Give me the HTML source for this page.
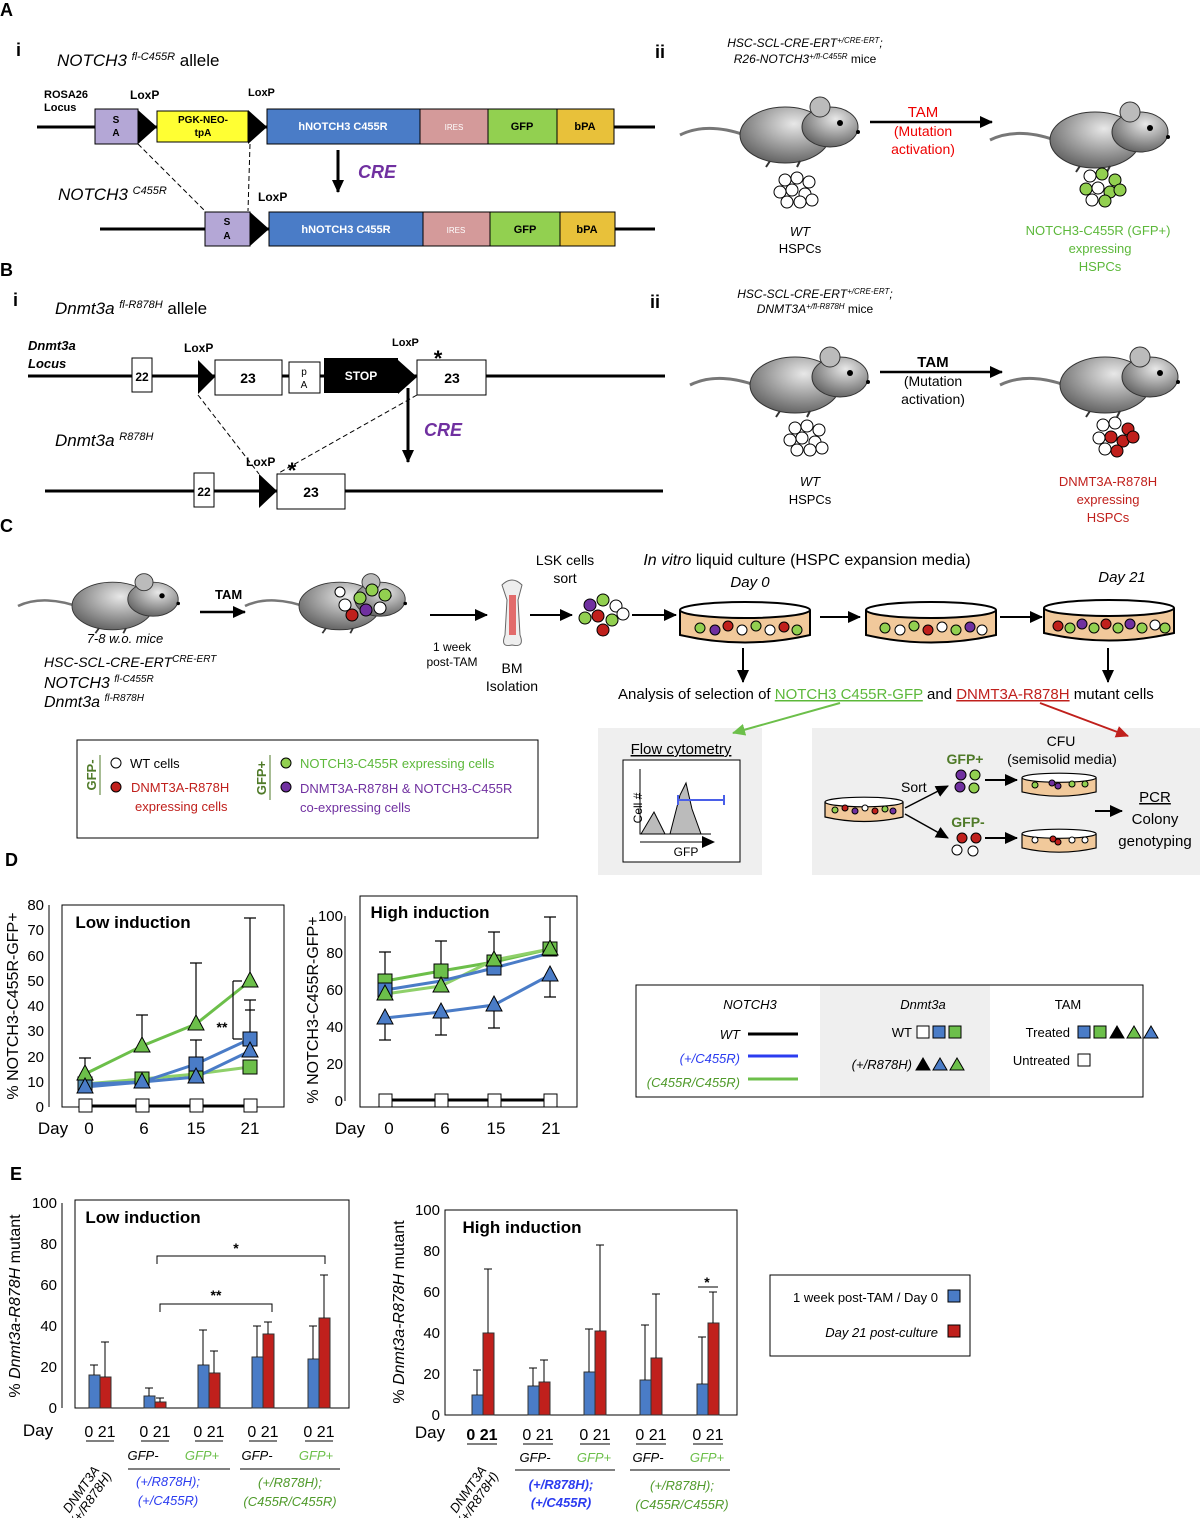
<!DOCTYPE html>
<html><head><meta charset="utf-8"><style>
html,body{margin:0;padding:0;background:#fff}
svg{display:block;font-family:"Liberation Sans",sans-serif}
.b{font-weight:bold}.it{font-style:italic}
</style></head><body>
<svg width="1200" height="1518" viewBox="0 0 1200 1518" xmlns="http://www.w3.org/2000/svg">
<defs>
<radialGradient id="mg" cx="0.6" cy="0.3" r="0.8"><stop offset="0" stop-color="#e8e8e8"/><stop offset="1" stop-color="#555"/></radialGradient>
<g id="mouse">
<path d="M0,40 C20,30 45,32 70,42" stroke="#777" stroke-width="3" fill="none"/>
<ellipse cx="105" cy="40" rx="45" ry="28" fill="url(#mg)" stroke="#333"/>
<ellipse cx="150" cy="32" rx="28" ry="20" fill="url(#mg)" stroke="#333"/>
<circle cx="140" cy="12" r="10" fill="#bbb" stroke="#333"/>
<circle cx="160" cy="28" r="3" fill="#000"/>
<circle cx="178" cy="37" r="2" fill="#000"/>
<path d="M90,66 l-4,6 M120,66 l-3,6" stroke="#333" stroke-width="2"/>
</g>
<g id="dish">
<path d="M0,10 L0,35 Q65,50 130,35 L130,10" fill="#f1c99b" stroke="#000" stroke-width="2"/>
<ellipse cx="65" cy="10" rx="65" ry="8" fill="#fff" stroke="#000" stroke-width="2"/>
</g>
<marker id="ar" markerUnits="userSpaceOnUse" markerWidth="14" markerHeight="14" refX="12" refY="6" orient="auto"><path d="M0,0 L13,6 L0,12z" fill="#000"/></marker>
<marker id="arg" markerUnits="userSpaceOnUse" markerWidth="14" markerHeight="14" refX="12" refY="6" orient="auto"><path d="M0,0 L13,6 L0,12z" fill="#6cbf4a"/></marker>
<marker id="arr" markerUnits="userSpaceOnUse" markerWidth="14" markerHeight="14" refX="12" refY="6" orient="auto"><path d="M0,0 L13,6 L0,12z" fill="#c0201c"/></marker>
</defs>

<!-- Panel A -->
<text x="0" y="16" class="b" font-size="18">A</text>
<text x="16" y="56" class="b" font-size="18">i</text>
<text x="57" y="66" font-size="17"><tspan class="it">NOTCH3 </tspan><tspan class="it" font-size="11" dy="-6">fl-C455R</tspan><tspan dy="6"> allele</tspan></text>
<text x="44" y="98" class="b" font-size="11">ROSA26</text><text x="44" y="111" class="b" font-size="11">Locus</text>
<text x="130" y="99" class="b" font-size="12">LoxP</text><text x="248" y="96" class="b" font-size="11">LoxP</text>
<line x1="37" y1="127" x2="655" y2="127" stroke="#000" stroke-width="3"/>
<rect x="95" y="109" width="43" height="35" fill="#b4a7d6" stroke="#000"/><text x="116" y="123" font-size="10" class="b" text-anchor="middle">S</text><text x="116" y="136" font-size="10" class="b" text-anchor="middle">A</text>
<path d="M138,110 L157,127 L138,144z" fill="#000"/>
<rect x="157" y="111" width="91" height="31" fill="#ffff33" stroke="#000"/><text x="203" y="123" font-size="10" class="b" text-anchor="middle">PGK-NEO-</text><text x="203" y="136" font-size="10" class="b" text-anchor="middle">tpA</text>
<path d="M248,110 L267,127 L248,144z" fill="#000"/>
<rect x="267" y="109" width="153" height="35" fill="#4a7cc7" stroke="#000"/><text x="343" y="130" font-size="11" class="b" fill="#fff" text-anchor="middle">hNOTCH3 C455R</text>
<rect x="420" y="109" width="68" height="35" fill="#d49a9a" stroke="#000"/><text x="454" y="130" font-size="8" fill="#fff" text-anchor="middle">IRES</text>
<rect x="488" y="109" width="69" height="35" fill="#92d050" stroke="#000"/><text x="522" y="130" font-size="11" class="b" text-anchor="middle">GFP</text>
<rect x="557" y="109" width="57" height="35" fill="#e8c13a" stroke="#000"/><text x="585" y="130" font-size="11" class="b" text-anchor="middle">bPA</text>
<line x1="338" y1="150" x2="338" y2="192" stroke="#000" stroke-width="3" marker-end="url(#ar)"/>
<text x="358" y="178" font-size="18" class="b it" fill="#7030a0">CRE</text>
<text x="58" y="200" font-size="17" class="it">NOTCH3 <tspan font-size="11" dy="-6">C455R</tspan></text>
<text x="258" y="201" class="b" font-size="12">LoxP</text>
<line x1="138" y1="144" x2="205" y2="211" stroke="#000" stroke-dasharray="5,3"/>
<line x1="250" y1="144" x2="248" y2="211" stroke="#000" stroke-dasharray="5,3"/>
<line x1="100" y1="229" x2="655" y2="229" stroke="#000" stroke-width="3"/>
<rect x="205" y="212" width="45" height="34" fill="#b4a7d6" stroke="#000"/><text x="227" y="225" font-size="10" class="b" text-anchor="middle">S</text><text x="227" y="239" font-size="10" class="b" text-anchor="middle">A</text>
<path d="M250,212 L269,229 L250,246z" fill="#000"/>
<rect x="269" y="212" width="154" height="34" fill="#4a7cc7" stroke="#000"/><text x="346" y="233" font-size="11" class="b" fill="#fff" text-anchor="middle">hNOTCH3 C455R</text>
<rect x="423" y="212" width="67" height="34" fill="#d49a9a" stroke="#000"/><text x="456" y="233" font-size="8" fill="#fff" text-anchor="middle">IRES</text>
<rect x="490" y="212" width="70" height="34" fill="#92d050" stroke="#000"/><text x="525" y="233" font-size="11" class="b" text-anchor="middle">GFP</text>
<rect x="560" y="212" width="55" height="34" fill="#e8c13a" stroke="#000"/><text x="587" y="233" font-size="11" class="b" text-anchor="middle">bPA</text>

<text x="655" y="58" class="b" font-size="18">ii</text>
<text x="805" y="47" font-size="12" class="it" text-anchor="middle">HSC-SCL-CRE-ERT<tspan font-size="8" dy="-4">+/CRE-ERT</tspan><tspan dy="4">;</tspan></text>
<text x="805" y="63" font-size="12" text-anchor="middle"><tspan class="it">R26-NOTCH3</tspan><tspan font-size="8" dy="-4" class="it">+/fl-C455R</tspan><tspan dy="4"> mice</tspan></text>
<use href="#mouse" transform="translate(680,95)"/>
<line x1="870" y1="122" x2="992" y2="122" stroke="#000" stroke-width="2.5" marker-end="url(#ar)"/>
<text x="923" y="117" font-size="15" fill="#e00" text-anchor="middle">TAM</text>
<text x="923" y="136" font-size="14" fill="#e00" text-anchor="middle">(Mutation</text>
<text x="923" y="154" font-size="14" fill="#e00" text-anchor="middle">activation)</text>
<use href="#mouse" transform="translate(990,100)"/>
<g fill="#fff" stroke="#000"><circle cx="785" cy="180" r="6"/><circle cx="797" cy="178" r="6"/><circle cx="809" cy="182" r="6"/><circle cx="780" cy="192" r="6"/><circle cx="792" cy="190" r="6"/><circle cx="805" cy="194" r="6"/><circle cx="787" cy="202" r="6"/><circle cx="800" cy="202" r="6"/><circle cx="812" cy="200" r="6"/></g>
<text x="800" y="236" font-size="13" class="it" text-anchor="middle">WT</text><text x="800" y="253" font-size="13" text-anchor="middle">HSPCs</text>
<g stroke="#000"><circle cx="1090" cy="176" r="6" fill="#fff"/><circle cx="1102" cy="174" r="6" fill="#92d050"/><circle cx="1115" cy="180" r="6" fill="#92d050"/><circle cx="1086" cy="189" r="6" fill="#92d050"/><circle cx="1098" cy="188" r="6" fill="#fff"/><circle cx="1110" cy="192" r="6" fill="#92d050"/><circle cx="1120" cy="190" r="6" fill="#92d050"/><circle cx="1092" cy="200" r="6" fill="#fff"/><circle cx="1105" cy="201" r="6" fill="#92d050"/></g>
<text x="1098" y="235" font-size="13" fill="#5cb83a" text-anchor="middle">NOTCH3-C455R (GFP+)</text><text x="1100" y="253" font-size="13" fill="#5cb83a" text-anchor="middle">expressing</text><text x="1100" y="271" font-size="13" fill="#5cb83a" text-anchor="middle">HSPCs</text>

<!-- Panel B -->
<text x="0" y="276" class="b" font-size="18">B</text>
<text x="13" y="306" class="b" font-size="18">i</text>
<text x="55" y="314" font-size="17"><tspan class="it">Dnmt3a </tspan><tspan class="it" font-size="11" dy="-6">fl-R878H</tspan><tspan dy="6"> allele</tspan></text>
<text x="28" y="350" class="b it" font-size="13">Dnmt3a</text><text x="28" y="368" class="b it" font-size="13">Locus</text>
<text x="184" y="352" class="b" font-size="12">LoxP</text><text x="392" y="346" class="b" font-size="11">LoxP</text>
<line x1="28" y1="376" x2="665" y2="376" stroke="#000" stroke-width="3"/>
<rect x="132" y="358" width="20" height="34" fill="#fff" stroke="#000"/><text x="142" y="381" font-size="12" class="b" text-anchor="middle">22</text>
<path d="M198,360 L215,377 L198,394z" fill="#000"/>
<rect x="215" y="360" width="67" height="35" fill="#fff" stroke="#000"/><text x="248" y="383" font-size="14" class="b" text-anchor="middle">23</text>
<rect x="289" y="362" width="31" height="31" fill="#fff" stroke="#000"/><text x="304" y="375" font-size="10" text-anchor="middle">p</text><text x="304" y="388" font-size="10" text-anchor="middle">A</text>
<rect x="324" y="358" width="74" height="35" fill="#000"/><text x="361" y="380" font-size="12" class="b" fill="#fff" text-anchor="middle">STOP</text>
<path d="M398,360 L417,377 L398,394z" fill="#000"/>
<rect x="417" y="360" width="69" height="35" fill="#fff" stroke="#000"/><text x="452" y="383" font-size="14" class="b" text-anchor="middle">23</text>
<text x="438" y="366" font-size="22" class="b" text-anchor="middle">*</text>
<line x1="408" y1="388" x2="408" y2="462" stroke="#000" stroke-width="3" marker-end="url(#ar)"/>
<text x="424" y="436" font-size="18" class="b it" fill="#7030a0">CRE</text>
<text x="55" y="446" font-size="17" class="it">Dnmt3a <tspan font-size="11" dy="-6">R878H</tspan></text>
<line x1="198" y1="395" x2="259" y2="474" stroke="#000" stroke-dasharray="5,3"/>
<line x1="417" y1="395" x2="277" y2="474" stroke="#000" stroke-dasharray="5,3"/>
<text x="246" y="466" class="b" font-size="12">LoxP</text>
<text x="292" y="478" font-size="22" class="b" text-anchor="middle">*</text>
<line x1="45" y1="491" x2="663" y2="491" stroke="#000" stroke-width="3"/>
<rect x="194" y="473" width="20" height="34" fill="#fff" stroke="#000"/><text x="204" y="496" font-size="12" class="b" text-anchor="middle">22</text>
<path d="M259,474 L277,491 L259,508z" fill="#000"/>
<rect x="277" y="474" width="68" height="35" fill="#fff" stroke="#000"/><text x="311" y="497" font-size="14" class="b" text-anchor="middle">23</text>

<text x="650" y="308" class="b" font-size="18">ii</text>
<text x="815" y="298" font-size="12" class="it" text-anchor="middle">HSC-SCL-CRE-ERT<tspan font-size="8" dy="-4">+/CRE-ERT</tspan><tspan dy="4">;</tspan></text>
<text x="815" y="313" font-size="12" text-anchor="middle"><tspan class="it">DNMT3A</tspan><tspan font-size="8" dy="-4" class="it">+/fl-R878H</tspan><tspan dy="4"> mice</tspan></text>
<use href="#mouse" transform="translate(690,345)"/>
<line x1="880" y1="372" x2="1002" y2="372" stroke="#000" stroke-width="2.5" marker-end="url(#ar)"/>
<text x="933" y="367" font-size="15" class="b" text-anchor="middle">TAM</text>
<text x="933" y="386" font-size="14" text-anchor="middle">(Mutation</text>
<text x="933" y="404" font-size="14" text-anchor="middle">activation)</text>
<use href="#mouse" transform="translate(1000,345)"/>
<g fill="#fff" stroke="#000"><circle cx="795" cy="428" r="6"/><circle cx="807" cy="426" r="6"/><circle cx="819" cy="430" r="6"/><circle cx="790" cy="440" r="6"/><circle cx="802" cy="438" r="6"/><circle cx="815" cy="442" r="6"/><circle cx="797" cy="450" r="6"/><circle cx="810" cy="450" r="6"/><circle cx="822" cy="448" r="6"/></g>
<text x="810" y="486" font-size="13" class="it" text-anchor="middle">WT</text><text x="810" y="504" font-size="13" text-anchor="middle">HSPCs</text>
<g stroke="#000"><circle cx="1103" cy="425" r="6" fill="#fff"/><circle cx="1115" cy="423" r="6" fill="#fff"/><circle cx="1128" cy="429" r="6" fill="#c0201c"/><circle cx="1099" cy="438" r="6" fill="#fff"/><circle cx="1111" cy="437" r="6" fill="#c0201c"/><circle cx="1123" cy="441" r="6" fill="#c0201c"/><circle cx="1133" cy="437" r="6" fill="#c0201c"/><circle cx="1105" cy="449" r="6" fill="#fff"/><circle cx="1117" cy="451" r="6" fill="#c0201c"/></g>
<text x="1108" y="486" font-size="13" fill="#c0201c" text-anchor="middle">DNMT3A-R878H</text><text x="1108" y="504" font-size="13" fill="#c0201c" text-anchor="middle">expressing</text><text x="1108" y="522" font-size="13" fill="#c0201c" text-anchor="middle">HSPCs</text>

<!-- Panel C -->
<text x="0" y="532" class="b" font-size="18">C</text>
<use href="#mouse" transform="translate(18,572) scale(0.9,0.85)"/>
<text x="215" y="599" class="b" font-size="13">TAM</text>
<line x1="200" y1="612" x2="245" y2="612" stroke="#000" stroke-width="2.5" marker-end="url(#ar)"/>
<use href="#mouse" transform="translate(245,572) scale(0.9,0.85)"/>
<g stroke="#000"><circle cx="345" cy="605" r="6" fill="#fff"/><circle cx="360" cy="598" r="6" fill="#92d050"/><circle cx="372" cy="590" r="6" fill="#92d050"/><circle cx="385" cy="595" r="6" fill="#92d050"/><circle cx="352" cy="615" r="6" fill="#c0201c"/><circle cx="366" cy="610" r="6" fill="#7030a0"/><circle cx="380" cy="608" r="6" fill="#fff"/><circle cx="340" cy="592" r="5" fill="#fff"/></g>
<text x="125" y="643" font-size="13" class="it" text-anchor="middle">7-8 w.o. mice</text>
<text x="44" y="667" font-size="14" class="it">HSC-SCL-CRE-ERT<tspan font-size="10" dy="-5">CRE-ERT</tspan></text>
<text x="44" y="688" font-size="16" class="it">NOTCH3 <tspan font-size="10" dy="-6">fl-C455R</tspan></text>
<text x="44" y="707" font-size="16" class="it">Dnmt3a <tspan font-size="10" dy="-6">fl-R878H</tspan></text>
<line x1="430" y1="615" x2="487" y2="615" stroke="#000" stroke-width="2" marker-end="url(#ar)"/>
<text x="452" y="651" font-size="12" text-anchor="middle">1 week</text><text x="452" y="666" font-size="12" text-anchor="middle">post-TAM</text>
<path d="M502,585 Q512,575 522,585 L518,600 L520,635 Q525,648 512,645 Q500,648 505,635 L507,600z" fill="#eee" stroke="#666"/>
<path d="M509,595 L516,595 L516,635 L509,635z" fill="#d33" opacity="0.7"/>
<text x="512" y="673" font-size="14" text-anchor="middle">BM</text><text x="512" y="691" font-size="14" text-anchor="middle">Isolation</text>
<line x1="530" y1="615" x2="572" y2="615" stroke="#000" stroke-width="2" marker-end="url(#ar)"/>
<text x="565" y="565" font-size="14" text-anchor="middle">LSK cells</text><text x="565" y="583" font-size="14" text-anchor="middle">sort</text>
<g stroke="#000"><circle cx="590" cy="605" r="6" fill="#7030a0"/><circle cx="603" cy="600" r="6" fill="#92d050"/><circle cx="616" cy="606" r="6" fill="#fff"/><circle cx="585" cy="618" r="6" fill="#92d050"/><circle cx="598" cy="616" r="6" fill="#c0201c"/><circle cx="612" cy="620" r="6" fill="#92d050"/><circle cx="623" cy="614" r="6" fill="#fff"/><circle cx="603" cy="630" r="6" fill="#c0201c"/></g>
<line x1="632" y1="615" x2="676" y2="615" stroke="#000" stroke-width="2" marker-end="url(#ar)"/>
<text x="807" y="565" font-size="16" text-anchor="middle"><tspan class="it">In vitro</tspan> liquid culture (HSPC expansion media)</text>
<text x="750" y="587" font-size="15" class="it" text-anchor="middle">Day 0</text>
<text x="1122" y="582" font-size="15" class="it" text-anchor="middle">Day 21</text>
<use href="#dish" transform="translate(680,600)"/>
<use href="#dish" transform="translate(866,600)"/>
<use href="#dish" transform="translate(1044,598)"/>
<g stroke="#000"><circle cx="700" cy="628" r="5" fill="#92d050"/><circle cx="715" cy="630" r="5" fill="#7030a0"/><circle cx="728" cy="626" r="5" fill="#c0201c"/><circle cx="742" cy="630" r="5" fill="#fff"/><circle cx="756" cy="626" r="5" fill="#92d050"/><circle cx="770" cy="630" r="5" fill="#fff"/><circle cx="784" cy="627" r="5" fill="#c0201c"/><circle cx="797" cy="630" r="5" fill="#92d050"/>
<circle cx="885" cy="628" r="5" fill="#92d050"/><circle cx="900" cy="630" r="5" fill="#fff"/><circle cx="914" cy="626" r="5" fill="#92d050"/><circle cx="928" cy="630" r="5" fill="#c0201c"/><circle cx="942" cy="627" r="5" fill="#fff"/><circle cx="956" cy="630" r="5" fill="#92d050"/><circle cx="970" cy="627" r="5" fill="#7030a0"/><circle cx="982" cy="630" r="5" fill="#fff"/>
<circle cx="1058" cy="626" r="5" fill="#c0201c"/><circle cx="1070" cy="628" r="5" fill="#92d050"/><circle cx="1082" cy="624" r="5" fill="#7030a0"/><circle cx="1094" cy="628" r="5" fill="#92d050"/><circle cx="1106" cy="624" r="5" fill="#c0201c"/><circle cx="1118" cy="628" r="5" fill="#92d050"/><circle cx="1130" cy="624" r="5" fill="#7030a0"/><circle cx="1142" cy="628" r="5" fill="#92d050"/><circle cx="1155" cy="625" r="5" fill="#fff"/><circle cx="1165" cy="628" r="5" fill="#92d050"/></g>
<line x1="820" y1="617" x2="860" y2="617" stroke="#000" stroke-width="2" marker-end="url(#ar)"/>
<line x1="1000" y1="617" x2="1042" y2="617" stroke="#000" stroke-width="2" marker-end="url(#ar)"/>
<line x1="743" y1="648" x2="743" y2="682" stroke="#000" stroke-width="2" marker-end="url(#ar)"/>
<line x1="1108" y1="648" x2="1108" y2="682" stroke="#000" stroke-width="2" marker-end="url(#ar)"/>
<text x="618" y="699" font-size="15">Analysis of selection of <tspan fill="#5cb83a" text-decoration="underline">NOTCH3 C455R-GFP</tspan> and <tspan fill="#c0201c" text-decoration="underline">DNMT3A-R878H</tspan> mutant cells</text>
<rect x="598" y="728" width="164" height="147" fill="#efefef"/>
<rect x="812" y="728" width="388" height="147" fill="#efefef"/>
<line x1="840" y1="703" x2="733" y2="733" stroke="#6cbf4a" stroke-width="2" marker-end="url(#arg)"/>
<line x1="1040" y1="703" x2="1128" y2="736" stroke="#c0201c" stroke-width="2" marker-end="url(#arr)"/>
<text x="681" y="754" font-size="15" text-anchor="middle" text-decoration="underline">Flow cytometry</text>
<rect x="623" y="760" width="117" height="102" fill="#fff" stroke="#000"/>
<path d="M640,769 L640,834 L711,834" fill="none" stroke="#000"/>
<line x1="640" y1="842" x2="714" y2="842" stroke="#000" marker-end="url(#ar)"/>
<path d="M641,834 L654,812 L665,834 L670,834 L680,795 L686,783 L692,809 L701,834z" fill="#bbb" stroke="#000"/>
<path d="M678,800 L724,800 M678,795 L678,805 M724,795 L724,805" stroke="#4a5fe8" stroke-width="2"/>
<text x="642" y="808" font-size="12" transform="rotate(-90 642 808)" text-anchor="middle">Cell #</text>
<text x="686" y="856" font-size="12" text-anchor="middle">GFP</text>
<use href="#dish" transform="translate(825,796) scale(0.6)"/>
<g stroke="#000"><circle cx="835" cy="810" r="3" fill="#92d050"/><circle cx="845" cy="808" r="3" fill="#c0201c"/><circle cx="855" cy="811" r="3" fill="#7030a0"/><circle cx="865" cy="808" r="3" fill="#fff"/><circle cx="875" cy="811" r="3" fill="#c0201c"/><circle cx="885" cy="809" r="3" fill="#92d050"/><circle cx="893" cy="811" r="3" fill="#7030a0"/></g>
<text x="901" y="792" font-size="14">Sort</text>
<line x1="905" y1="808" x2="948" y2="786" stroke="#000" stroke-width="1.5" marker-end="url(#ar)"/>
<line x1="905" y1="814" x2="948" y2="838" stroke="#000" stroke-width="1.5" marker-end="url(#ar)"/>
<text x="965" y="764" font-size="14" class="b" fill="#4f7a28" text-anchor="middle">GFP+</text>
<text x="968" y="827" font-size="14" class="b" fill="#4f7a28" text-anchor="middle">GFP-</text>
<g stroke="#000"><circle cx="961" cy="775" r="5" fill="#7030a0"/><circle cx="975" cy="775" r="5" fill="#92d050"/><circle cx="960" cy="787" r="5" fill="#7030a0"/><circle cx="974" cy="788" r="5" fill="#92d050"/>
<circle cx="962" cy="838" r="5" fill="#c0201c"/><circle cx="976" cy="838" r="5" fill="#c0201c"/><circle cx="957" cy="850" r="5" fill="#fff"/><circle cx="973" cy="851" r="5" fill="#fff"/></g>
<line x1="985" y1="780" x2="1017" y2="780" stroke="#000" stroke-width="2" marker-end="url(#ar)"/>
<line x1="985" y1="838" x2="1017" y2="838" stroke="#000" stroke-width="2" marker-end="url(#ar)"/>
<use href="#dish" transform="translate(1022,772) scale(0.57)"/>
<use href="#dish" transform="translate(1022,828) scale(0.57)"/>
<g stroke="#000"><circle cx="1035" cy="785" r="3" fill="#92d050"/><circle cx="1052" cy="783" r="3" fill="#7030a0"/><circle cx="1058" cy="786" r="3" fill="#7030a0"/><circle cx="1072" cy="784" r="3" fill="#92d050"/><circle cx="1085" cy="784" r="3" fill="#92d050"/>
<circle cx="1035" cy="840" r="3" fill="#fff"/><circle cx="1053" cy="839" r="3" fill="#c0201c"/><circle cx="1058" cy="842" r="3" fill="#c0201c"/><circle cx="1072" cy="840" r="3" fill="#fff"/><circle cx="1085" cy="840" r="3" fill="#fff"/></g>
<text x="1061" y="746" font-size="14" text-anchor="middle">CFU</text>
<text x="1062" y="764" font-size="14" text-anchor="middle">(semisolid media)</text>
<line x1="1095" y1="811" x2="1122" y2="811" stroke="#000" stroke-width="2" marker-end="url(#ar)"/>
<text x="1155" y="802" font-size="15" text-anchor="middle" text-decoration="underline">PCR</text>
<text x="1155" y="824" font-size="15" text-anchor="middle">Colony</text>
<text x="1155" y="846" font-size="15" text-anchor="middle">genotyping</text>
<!-- legend C -->
<rect x="77" y="740" width="461" height="98" fill="#fff" stroke="#000"/>
<text x="96" y="775" font-size="13" class="b" fill="#4f7a28" transform="rotate(-90 96 775)" text-anchor="middle">GFP-</text>
<text x="266" y="778" font-size="13" class="b" fill="#4f7a28" transform="rotate(-90 266 778)" text-anchor="middle">GFP+</text>
<line x1="100" y1="755" x2="100" y2="795" stroke="#4f7a28"/><line x1="270" y1="755" x2="270" y2="800" stroke="#4f7a28"/>
<circle cx="116" cy="763" r="5" fill="#fff" stroke="#000"/><text x="130" y="768" font-size="13">WT cells</text>
<circle cx="116" cy="787" r="5" fill="#c0201c" stroke="#000"/><text x="131" y="792" font-size="13" fill="#c0201c">DNMT3A-R878H</text><text x="135" y="811" font-size="13" fill="#c0201c">expressing cells</text>
<circle cx="286" cy="763" r="5" fill="#92d050" stroke="#000"/><text x="300" y="768" font-size="13" fill="#5cb83a">NOTCH3-C455R expressing cells</text>
<circle cx="286" cy="787" r="5" fill="#7030a0" stroke="#000"/><text x="300" y="793" font-size="13" fill="#7030a0">DNMT3A-R878H &amp; NOTCH3-C455R</text><text x="300" y="812" font-size="13" fill="#7030a0">co-expressing cells</text>

<!-- Panel D -->
<text x="5" y="866" class="b" font-size="18">D</text>
<rect x="62" y="905" width="222" height="202" fill="none" stroke="#000"/>
<line x1="49" y1="905" x2="49" y2="1107" stroke="#000"/>
<g font-size="15" text-anchor="end"><text x="44" y="1112">0</text><text x="44" y="1087">10</text><text x="44" y="1062">20</text><text x="44" y="1036">30</text><text x="44" y="1011">40</text><text x="44" y="986">50</text><text x="44" y="961">60</text><text x="44" y="935">70</text><text x="44" y="910">80</text></g>
<text x="18" y="1006" font-size="16" transform="rotate(-90 18 1006)" text-anchor="middle">% NOTCH3-C455R-GFP+</text>
<g font-size="17" text-anchor="middle"><text x="53" y="1134">Day</text><text x="89" y="1134">0</text><text x="144" y="1134">6</text><text x="196" y="1134">15</text><text x="250" y="1134">21</text></g>
<text x="133" y="928" font-size="17" class="b" text-anchor="middle">Low induction</text>
<g fill="none" stroke-width="3">
<polyline points="85,1074 142,1046 196,1024 250,981" stroke="#6cbf4a"/>
<polyline points="85,1084 142,1079 196,1074 250,1067" stroke="#8fd06a"/>
<polyline points="85,1084 142,1082 196,1064 250,1039" stroke="#4a7cc7"/>
<polyline points="85,1087 142,1082 196,1077 250,1051" stroke="#4a7cc7"/>
<polyline points="85,1106 250,1106" stroke="#000"/>
</g>
<g stroke="#000" stroke-width="1.2">
<path d="M142,1046 V1015 M136,1015 H148 M196,1024 V963 M190,963 H202 M250,981 V918 M244,918 H256 M85,1074 V1058 M79,1058 H91 M250,1051 V1000 M244,1000 H256 M196,1064 V1040 M190,1040 H202 M250,1039 V1010 M245,1010 H255" fill="none"/>
<path d="M233,981 H242 M233,981 V1039 M233,1039 H242" fill="none"/>
</g>
<text x="222" y="1032" font-size="14" class="b" text-anchor="middle">**</text>
<g stroke="#000">
<rect x="78" y="1077" width="14" height="14" fill="#6cbf4a"/><rect x="135" y="1072" width="14" height="14" fill="#6cbf4a"/><rect x="189" y="1067" width="14" height="14" fill="#6cbf4a"/><rect x="243" y="1060" width="14" height="14" fill="#6cbf4a"/>
<rect x="78" y="1077" width="14" height="14" fill="#4a7cc7" opacity="0.8"/><rect x="189" y="1057" width="14" height="14" fill="#4a7cc7"/><rect x="243" y="1032" width="14" height="14" fill="#4a7cc7"/>
<path d="M85,1065 L93,1080 L77,1080z M142,1037 L150,1052 L134,1052z M196,1015 L204,1030 L188,1030z M250,972 L258,987 L242,987z" fill="#6cbf4a"/>
<path d="M85,1078 L93,1093 L77,1093z M142,1073 L150,1088 L134,1088z M196,1068 L204,1083 L188,1083z M250,1042 L258,1057 L242,1057z" fill="#4a7cc7"/>
<rect x="79" y="1099" width="13" height="13" fill="#fff"/><rect x="136" y="1099" width="13" height="13" fill="#fff"/><rect x="190" y="1099" width="13" height="13" fill="#fff"/><rect x="244" y="1099" width="13" height="13" fill="#fff"/>
</g>
<!-- D high -->
<rect x="360" y="896" width="217" height="211" fill="none" stroke="#000"/>
<line x1="345" y1="916" x2="345" y2="1101" stroke="#000"/>
<g font-size="15" text-anchor="end"><text x="343" y="1106">0</text><text x="343" y="1069">20</text><text x="343" y="1032">40</text><text x="343" y="995">60</text><text x="343" y="958">80</text><text x="343" y="921">100</text></g>
<text x="318" y="1010" font-size="16" transform="rotate(-90 318 1010)" text-anchor="middle">% NOTCH3-C455R-GFP+</text>
<g font-size="17" text-anchor="middle"><text x="350" y="1134">Day</text><text x="389" y="1134">0</text><text x="445" y="1134">6</text><text x="496" y="1134">15</text><text x="551" y="1134">21</text></g>
<text x="430" y="918" font-size="17" class="b" text-anchor="middle">High induction</text>
<g fill="none" stroke-width="3">
<polyline points="385,981 441,971 494,962 550,949" stroke="#6cbf4a"/>
<polyline points="385,994 441,986 494,960 550,949" stroke="#8fd06a"/>
<polyline points="385,990 441,981 494,968 550,953" stroke="#4a7cc7"/>
<polyline points="385,1018 441,1012 494,1005 550,975" stroke="#4a7cc7"/>
<polyline points="385,1100 550,1100" stroke="#000"/>
</g>
<g stroke="#000" stroke-width="1.2" fill="none">
<path d="M385,981 V952 M379,952 H391 M441,971 V941 M435,941 H447 M494,962 V932 M488,932 H500 M550,949 V917 M544,917 H556 M385,1018 V1040 M379,1040 H391 M441,1012 V1035 M435,1035 H447 M494,1005 V1028 M488,1028 H500 M550,975 V997 M544,997 H556"/>
</g>
<g stroke="#000">
<rect x="378" y="974" width="14" height="14" fill="#6cbf4a"/><rect x="434" y="964" width="14" height="14" fill="#6cbf4a"/><rect x="487" y="955" width="14" height="14" fill="#6cbf4a"/><rect x="543" y="942" width="14" height="14" fill="#6cbf4a"/>
<rect x="378" y="983" width="14" height="14" fill="#4a7cc7"/><rect x="487" y="961" width="14" height="14" fill="#4a7cc7"/>
<path d="M385,985 L393,1000 L377,1000z M441,977 L449,992 L433,992z M494,951 L502,966 L486,966z M550,940 L558,955 L542,955z" fill="#6cbf4a"/>
<path d="M385,1009 L393,1024 L377,1024z M441,1003 L449,1018 L433,1018z M494,996 L502,1011 L486,1011z M550,966 L558,981 L542,981z" fill="#4a7cc7"/>
<rect x="379" y="1094" width="13" height="13" fill="#fff"/><rect x="435" y="1094" width="13" height="13" fill="#fff"/><rect x="488" y="1094" width="13" height="13" fill="#fff"/><rect x="544" y="1094" width="13" height="13" fill="#fff"/>
</g>
<!-- D legend -->
<rect x="820" y="985" width="170" height="112" fill="#efefef"/>
<rect x="636" y="985" width="507" height="112" fill="none" stroke="#000"/>
<text x="750" y="1009" font-size="13" class="it" text-anchor="middle">NOTCH3</text>
<text x="923" y="1009" font-size="13" class="it" text-anchor="middle">Dnmt3a</text>
<text x="1068" y="1009" font-size="13" text-anchor="middle">TAM</text>
<text x="740" y="1039" font-size="13" class="it" text-anchor="end">WT</text><line x1="748" y1="1034" x2="798" y2="1034" stroke="#000" stroke-width="3"/>
<text x="740" y="1063" font-size="13" class="it" text-anchor="end" fill="#2b3cf0">(+/C455R)</text><line x1="748" y1="1056" x2="798" y2="1056" stroke="#2b3cf0" stroke-width="3"/>
<text x="740" y="1087" font-size="13" class="it" text-anchor="end" fill="#4f9a2a">(C455R/C455R)</text><line x1="748" y1="1079" x2="798" y2="1079" stroke="#6cbf4a" stroke-width="3"/>
<text x="912" y="1037" font-size="13" text-anchor="end">WT</text>
<g stroke="#000"><rect x="917" y="1026" width="12" height="12" fill="#fff"/><rect x="933" y="1026" width="12" height="12" fill="#4a7cc7"/><rect x="949" y="1026" width="12" height="12" fill="#6cbf4a"/>
<path d="M923,1058 L930,1070 L916,1070z" fill="#000"/><path d="M940,1058 L947,1070 L933,1070z" fill="#4a7cc7"/><path d="M957,1058 L964,1070 L950,1070z" fill="#6cbf4a"/></g>
<text x="912" y="1069" font-size="13" class="it" text-anchor="end">(+/R878H)</text>
<text x="1070" y="1037" font-size="13" text-anchor="end">Treated</text>
<g stroke="#000"><rect x="1078" y="1026" width="12" height="12" fill="#4a7cc7"/><rect x="1094" y="1026" width="12" height="12" fill="#6cbf4a"/><path d="M1117,1026 L1124,1038 L1110,1038z" fill="#000"/><path d="M1134,1026 L1141,1038 L1127,1038z" fill="#6cbf4a"/><path d="M1151,1026 L1158,1038 L1144,1038z" fill="#4a7cc7"/>
<rect x="1078" y="1054" width="12" height="12" fill="#fff"/></g>
<text x="1070" y="1065" font-size="13" text-anchor="end">Untreated</text>

<!-- Panel E -->
<text x="10" y="1180" class="b" font-size="18">E</text>
<rect x="75" y="1200" width="274" height="208" fill="none" stroke="#000"/>
<g font-size="15" text-anchor="end"><text x="57" y="1413">0</text><text x="57" y="1372">20</text><text x="57" y="1331">40</text><text x="57" y="1290">60</text><text x="57" y="1249">80</text><text x="57" y="1208">100</text></g>
<line x1="62" y1="1203" x2="62" y2="1408" stroke="#000"/>
<text x="20" y="1306" font-size="16" transform="rotate(-90 20 1306)" text-anchor="middle">% <tspan class="it">Dnmt3a-R878H</tspan> mutant</text>
<text x="143" y="1223" font-size="17" class="b" text-anchor="middle">Low induction</text>
<g fill="#4a7cc7" stroke="#333"><rect x="89" y="1375" width="11" height="33"/><rect x="144" y="1396" width="11" height="12"/><rect x="198" y="1365" width="11" height="43"/><rect x="252" y="1357" width="11" height="51"/><rect x="308" y="1359" width="11" height="49"/></g>
<g fill="#c0201c" stroke="#333"><rect x="100" y="1377" width="11" height="31"/><rect x="155" y="1402" width="11" height="6"/><rect x="209" y="1373" width="11" height="35"/><rect x="263" y="1334" width="11" height="74"/><rect x="319" y="1318" width="11" height="90"/></g>
<g stroke="#000" fill="none"><path d="M94,1375 V1365 M90,1365 H98 M149,1396 V1388 M145,1388 H153 M203,1365 V1330 M199,1330 H207 M257,1357 V1326 M253,1326 H261 M313,1359 V1326 M309,1326 H317 M105,1377 V1342 M101,1342 H109 M160,1402 V1398 M156,1398 H164 M214,1373 V1351 M210,1351 H218 M268,1334 V1322 M264,1322 H272 M324,1318 V1275 M320,1275 H328"/>
<path d="M160,1312 V1304 H272 V1312 M157,1264 V1256 H325 V1264"/></g>
<text x="216" y="1300" font-size="14" class="b" text-anchor="middle">**</text>
<text x="236" y="1253" font-size="14" class="b" text-anchor="middle">*</text>
<text x="38" y="1436" font-size="17" text-anchor="middle">Day</text>
<g font-size="16" text-anchor="middle"><text x="100" y="1437">0 21</text><text x="155" y="1437">0 21</text><text x="209" y="1437">0 21</text><text x="263" y="1437">0 21</text><text x="319" y="1437">0 21</text></g>
<g stroke="#000"><line x1="86" y1="1441" x2="114" y2="1441"/><line x1="141" y1="1441" x2="169" y2="1441"/><line x1="195" y1="1441" x2="223" y2="1441"/><line x1="249" y1="1441" x2="277" y2="1441"/><line x1="305" y1="1441" x2="333" y2="1441"/><line x1="128" y1="1469" x2="230" y2="1469"/><line x1="240" y1="1469" x2="340" y2="1469"/></g>
<g font-size="13" class="it"><text x="143" y="1460" text-anchor="middle">GFP-</text><text x="202" y="1460" text-anchor="middle" fill="#6cbf4a">GFP+</text><text x="257" y="1460" text-anchor="middle">GFP-</text><text x="316" y="1460" text-anchor="middle" fill="#6cbf4a">GFP+</text>
<text x="168" y="1486" text-anchor="middle" fill="#2b3cf0">(+/R878H);</text><text x="168" y="1505" text-anchor="middle" fill="#2b3cf0">(+/C455R)</text>
<text x="290" y="1487" text-anchor="middle" fill="#4f9a2a">(+/R878H);</text><text x="290" y="1506" text-anchor="middle" fill="#4f9a2a">(C455R/C455R)</text></g>
<text x="100" y="1470" font-size="13" class="it" transform="rotate(-55 100 1470)" text-anchor="end">DNMT3A</text>
<text x="112" y="1476" font-size="13" class="it" transform="rotate(-55 112 1476)" text-anchor="end">(+/R878H)</text>

<!-- E high -->
<rect x="445" y="1210" width="292" height="205" fill="none" stroke="#000"/>
<g font-size="15" text-anchor="end"><text x="440" y="1420">0</text><text x="440" y="1379">20</text><text x="440" y="1338">40</text><text x="440" y="1297">60</text><text x="440" y="1256">80</text><text x="440" y="1215">100</text></g>
<text x="404" y="1312" font-size="16" transform="rotate(-90 404 1312)" text-anchor="middle">% <tspan class="it">Dnmt3a-R878H</tspan> mutant</text>
<text x="522" y="1233" font-size="17" class="b" text-anchor="middle">High induction</text>
<g fill="#4a7cc7" stroke="#333"><rect x="472" y="1395" width="11" height="20"/><rect x="528" y="1386" width="11" height="29"/><rect x="584" y="1372" width="11" height="43"/><rect x="640" y="1380" width="11" height="35"/><rect x="697" y="1384" width="11" height="31"/></g>
<g fill="#c0201c" stroke="#333"><rect x="483" y="1333" width="11" height="82"/><rect x="539" y="1382" width="11" height="33"/><rect x="595" y="1331" width="11" height="84"/><rect x="651" y="1358" width="11" height="57"/><rect x="708" y="1323" width="11" height="92"/></g>
<g stroke="#000" fill="none"><path d="M477,1395 V1370 M473,1370 H481 M533,1386 V1368 M529,1368 H537 M589,1372 V1329 M585,1329 H593 M645,1380 V1325 M641,1325 H649 M702,1384 V1337 M698,1337 H706 M488,1333 V1269 M484,1269 H492 M544,1382 V1360 M540,1360 H548 M600,1331 V1245 M596,1245 H604 M656,1358 V1294 M652,1294 H660 M713,1323 V1292 M709,1292 H717 M698,1287 H718"/></g>
<text x="707" y="1287" font-size="14" class="b" text-anchor="middle">*</text>
<text x="430" y="1438" font-size="17" text-anchor="middle">Day</text>
<g font-size="16" text-anchor="middle"><text x="482" y="1440" class="b">0 21</text><text x="538" y="1440">0 21</text><text x="595" y="1440">0 21</text><text x="651" y="1440">0 21</text><text x="708" y="1440">0 21</text></g>
<g stroke="#000"><line x1="467" y1="1444" x2="497" y2="1444"/><line x1="523" y1="1444" x2="553" y2="1444"/><line x1="580" y1="1444" x2="610" y2="1444"/><line x1="636" y1="1444" x2="666" y2="1444"/><line x1="693" y1="1444" x2="723" y2="1444"/><line x1="515" y1="1470" x2="615" y2="1470"/><line x1="630" y1="1470" x2="730" y2="1470"/></g>
<g font-size="13" class="it"><text x="535" y="1462" text-anchor="middle">GFP-</text><text x="594" y="1462" text-anchor="middle" fill="#6cbf4a">GFP+</text><text x="648" y="1462" text-anchor="middle">GFP-</text><text x="707" y="1462" text-anchor="middle" fill="#6cbf4a">GFP+</text>
<text x="561" y="1489" text-anchor="middle" fill="#2b3cf0" class="b">(+/R878H);</text><text x="561" y="1507" text-anchor="middle" fill="#2b3cf0" class="b">(+/C455R)</text>
<text x="682" y="1490" text-anchor="middle" fill="#4f9a2a">(+/R878H);</text><text x="682" y="1509" text-anchor="middle" fill="#4f9a2a">(C455R/C455R)</text></g>
<text x="487" y="1470" font-size="13" class="it" transform="rotate(-55 487 1470)" text-anchor="end">DNMT3A</text>
<text x="499" y="1476" font-size="13" class="it" transform="rotate(-55 499 1476)" text-anchor="end">(+/R878H)</text>
<!-- E legend -->
<rect x="770" y="1275" width="200" height="81" fill="#fff" stroke="#000"/>
<text x="938" y="1302" font-size="13" text-anchor="end">1 week post-TAM / Day 0</text>
<rect x="948" y="1290" width="12" height="12" fill="#4a7cc7" stroke="#000"/>
<text x="938" y="1337" font-size="13" class="it" text-anchor="end">Day 21 post-culture</text>
<rect x="948" y="1325" width="12" height="12" fill="#c0201c" stroke="#000"/>
</svg>
</body></html>
